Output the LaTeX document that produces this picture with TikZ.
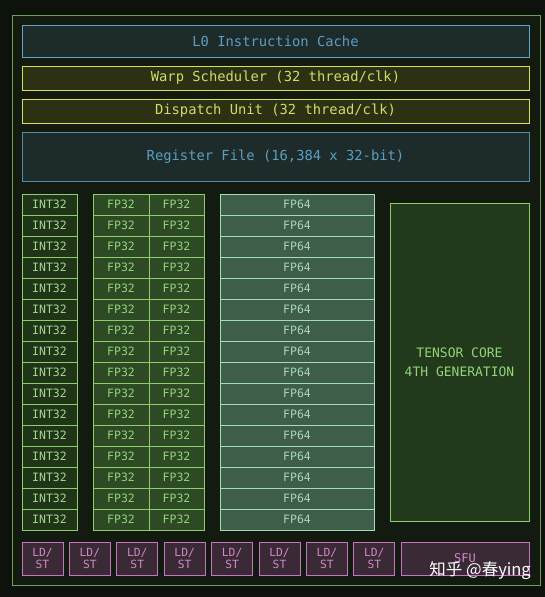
\documentclass[tikz,border=0pt]{standalone}
\usepackage{fontspec}
\setmonofont{DejaVu Sans Mono}
\newfontfamily\cjk{Noto Sans CJK SC}
\definecolor{bgc}{HTML}{0D120D}
\definecolor{framefill}{HTML}{131B11}
\definecolor{framestroke}{HTML}{6E9E55}
\definecolor{bluefill}{HTML}{1D2B2B}
\definecolor{bluestroke}{HTML}{62A4C6}
\definecolor{bluetext}{HTML}{5C9EC0}
\definecolor{yelfill}{HTML}{2B3112}
\definecolor{yelstroke}{HTML}{D6E060}
\definecolor{yeltext}{HTML}{D2DA6E}
\definecolor{intfill}{HTML}{203418}
\definecolor{fp32fill}{HTML}{2D4A24}
\definecolor{greenstroke}{HTML}{8ACF6C}
\definecolor{greentext}{HTML}{92D47A}
\definecolor{inttext}{HTML}{A4D894}
\definecolor{fp64fill}{HTML}{3E5E49}
\definecolor{fp64stroke}{HTML}{A2DEB4}
\definecolor{fp64text}{HTML}{A8D6B8}
\definecolor{tensorfill}{HTML}{23391B}
\definecolor{ldfill}{HTML}{3A2A35}
\definecolor{ldstroke}{HTML}{C674BE}
\definecolor{ldtext}{HTML}{D088C8}
\tikzset{
  box/.style={draw, line width=0.9pt, inner sep=0pt, outer sep=0pt, anchor=north west, font=\ttfamily},
  bluebox/.style={box, fill=bluefill, draw=bluestroke, text=bluetext, font=\ttfamily\fontsize{13.8}{16}\selectfont},
  yelbox/.style={box, fill=yelfill, draw=yelstroke, text=yeltext, font=\ttfamily\fontsize{13.8}{16}\selectfont},
  intcell/.style={box, fill=intfill, draw=greenstroke, text=inttext, minimum width=55pt, minimum height=21pt, font=\ttfamily\fontsize{11.5}{13}\selectfont},
  fpcell/.style={box, fill=fp32fill, draw=greenstroke, text=greentext, minimum height=21pt, font=\ttfamily\fontsize{11.5}{13}\selectfont},
  fp64cell/.style={box, fill=fp64fill, draw=fp64stroke, text=fp64text, minimum width=154pt, minimum height=21pt, font=\ttfamily\fontsize{11.5}{13}\selectfont},
  tensorbox/.style={box, fill=tensorfill, draw=greenstroke, text=greentext, align=center, font=\ttfamily\fontsize{13}{19}\selectfont},
  ldbox/.style={box, fill=ldfill, draw=ldstroke, text=ldtext, minimum width=41pt, minimum height=33pt, align=center, font=\ttfamily\fontsize{11.3}{12}\selectfont},
}
\begin{document}
\begin{tikzpicture}[x=1pt,y=-1pt]
\useasboundingbox (0,0) rectangle (545,597);
\fill[bgc] (0,0) rectangle (545,597);
\node[box, fill=framefill, draw=framestroke, line width=1pt, minimum width=528pt, minimum height=570pt] (frame) at (12,15) {};
\node[bluebox, minimum width=507pt, minimum height=32pt] (l0) at (22,25) {L0 Instruction Cache};
\node[yelbox, minimum width=507pt, minimum height=24pt] (warp) at (22,66) {Warp Scheduler (32 thread/clk)};
\node[yelbox, minimum width=507pt, minimum height=24pt] (disp) at (22,99) {Dispatch Unit (32 thread/clk)};
\node[bluebox, draw=bluestroke!85!black, minimum width=507pt, minimum height=49pt] (reg) at (22,132) {Register File (16,384 x 32-bit)};
\foreach \i in {0,...,15}{
  \node[intcell] (int\i) at (22,194+21*\i) {INT32};
  \node[fpcell, minimum width=56pt] (fpa\i) at (93,194+21*\i) {FP32};
  \node[fpcell, minimum width=55pt] (fpb\i) at (149,194+21*\i) {FP32};
  \node[fp64cell] (fpd\i) at (220,194+21*\i) {FP64};
}
\node[tensorbox, minimum width=139pt, minimum height=318pt] (tensor) at (390,203) {TENSOR CORE\\4TH GENERATION};
\foreach \i in {0,...,7}{
  \node[ldbox] (ld\i) at (22+47.4*\i,542) {LD/\\ST};
}
\node[ldbox, minimum width=128pt, font=\ttfamily\fontsize{12}{14}\selectfont] (sfu) at (401,542) {SFU};
\node[text=white, font=\cjk\fontsize{16.5}{18}\selectfont, anchor=east, inner sep=0pt] (wm) at (531,571) {知乎 @春ying};
\end{tikzpicture}
\end{document}
